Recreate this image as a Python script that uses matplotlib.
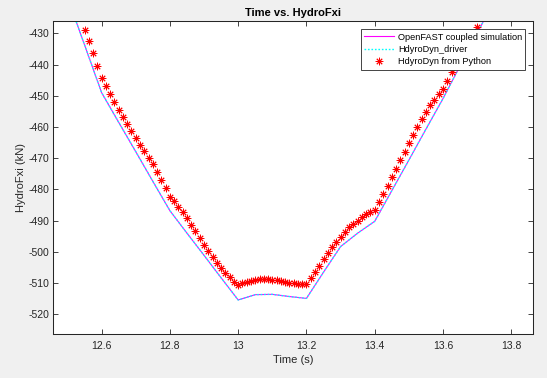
import matplotlib
matplotlib.use('Agg')
import matplotlib.pyplot as plt
import numpy as np

plt.rcParams['font.family'] = ['Liberation Sans', 'DejaVu Sans']
plt.rcParams['axes.unicode_minus'] = False

# OpenFAST coupled simulation (time in s, force in kN)
t_openfast = [12.50, 12.55, 12.60, 12.65, 12.70, 12.75, 12.80, 12.85, 12.90, 12.95,
              13.00, 13.05, 13.10, 13.15, 13.20, 13.25, 13.30, 13.35, 13.40, 13.45,
              13.50, 13.55, 13.60, 13.65, 13.70, 13.75]
fx_openfast = [-418.5, -433.7, -449.0, -458.5, -467.9, -477.4, -486.8, -494.0, -501.1, -508.3,
               -515.4, -513.7, -513.6, -514.3, -514.9, -506.5, -498.3, -494.0, -490.2, -480.4,
               -470.6, -460.7, -450.9, -440.4, -430.0, -419.5]

# HydroDyn driver (overlaps OpenFAST)
t_driver = [12.50, 12.55, 12.60, 12.65, 12.70, 12.75, 12.80, 12.85, 12.90, 12.95,
            13.00, 13.05, 13.10, 13.15, 13.20, 13.25, 13.30, 13.35, 13.40, 13.45,
            13.50, 13.55, 13.60, 13.65, 13.70, 13.75]
fx_driver = [-418.5, -433.7, -449.0, -458.5, -467.9, -477.4, -486.8, -494.0, -501.1, -508.3,
             -515.4, -513.7, -513.6, -514.3, -514.9, -506.5, -498.3, -494.0, -490.2, -480.4,
             -470.6, -460.7, -450.9, -440.4, -430.0, -419.5]

# HydroDyn from Python, sampled every 0.0125 s from 12.55 s
t_python_start = 12.55
t_python_step = 0.0125
fx_python = [-429.0, -432.5, -436.4, -440.4, -444.3, -446.9, -449.5, -452.1, -454.7, -456.8,
             -459.2, -461.4, -463.6, -465.8, -467.8, -470.0, -472.0, -474.5, -477.1, -479.6,
             -482.5, -483.8, -485.7, -487.3, -489.2, -491.4, -493.3, -495.6, -497.8, -499.7,
             -501.7, -503.5, -505.3, -506.7, -508.2, -509.6, -510.6, -510.1, -509.7, -509.2,
             -509.0, -508.8, -508.6, -508.8, -508.9, -509.1, -509.4, -509.8, -510.0, -510.1,
             -510.3, -510.4, -510.4, -508.5, -506.6, -504.5, -502.4, -500.5, -498.5, -496.9,
             -495.3, -493.5, -491.9, -491.1, -490.0, -488.9, -487.8, -487.2, -486.7, -484.1,
             -481.6, -478.9, -476.1, -473.5, -470.7, -467.9, -465.2, -462.6, -460.1, -457.5,
             -455.1, -453.1, -451.4, -449.4, -447.9, -445.2, -442.3, -439.5, -437.0, -434.6,
             -432.3, -430.1, -427.9]
t_python = t_python_start + t_python_step * np.arange(len(fx_python))

xticks = [12.6, 12.8, 13.0, 13.2, 13.4, 13.6, 13.8]
xticklabels = ['12.6', '12.8', '13', '13.2', '13.4', '13.6', '13.8']
yticks = [-520, -510, -500, -490, -480, -470, -460, -450, -440, -430]

W, H = 547, 378
fig = plt.figure(figsize=(W / 100, H / 100), dpi=100, facecolor='#f0f0f0')
L, R, T, B = 53.3, 533.0, 21.3, 334.0
ax = fig.add_axes([L / W, 1 - B / H, (R - L) / W, (B - T) / H])
ax.set_facecolor('white')

dark = '#262626'
ax.plot(t_openfast, fx_openfast, color='#ff00ff', lw=0.8, label='OpenFAST coupled simulation')
ax.plot(t_driver, fx_driver, color='#00ffff', lw=1.0, ls=(0, (1.2, 1.3)), label='HdyroDyn_driver')
ax.plot(t_python, fx_python, ls='none', marker=(8, 2, 0), ms=5.4, mew=0.65,
        color='#ff0000', mec='#ff0000', label='HdyroDyn from Python')

ax.set_xlim(12.4585, 13.8636)
ax.set_ylim(-526.3, -426.15)
ax.set_xticks(xticks)
ax.set_xticklabels(xticklabels)
ax.set_yticks(yticks)

ax.tick_params(direction='in', top=True, right=True, length=3.6, width=0.6,
               colors=dark, labelsize=7.5)
ax.tick_params(axis='x', pad=5)
ax.tick_params(axis='y', pad=3)
for s in ax.spines.values():
    s.set_color(dark)
    s.set_linewidth(0.75)

ax.set_title('Time vs. HydroFxi', fontsize=8, fontweight='bold', color='black', pad=4)
ax.set_xlabel('Time (s)', fontsize=8, color=dark, labelpad=3)
ax.set_ylabel('HydroFxi (kN)', fontsize=8, color=dark, labelpad=1.5)

lx = (525.3 - L) / (R - L)
ly = 1 - (29.3 - T) / (B - T)
leg = ax.legend(loc='upper right', bbox_to_anchor=(lx, ly), borderaxespad=0,
                fontsize=6.6, frameon=True, fancybox=False, framealpha=1,
                edgecolor=dark, handlelength=3.3, handletextpad=0.4,
                labelspacing=0.38, borderpad=0.35, numpoints=1)
leg.get_frame().set_linewidth(0.6)
leg.set_zorder(10)

fig.savefig('out.png', dpi=100, facecolor=fig.get_facecolor())
